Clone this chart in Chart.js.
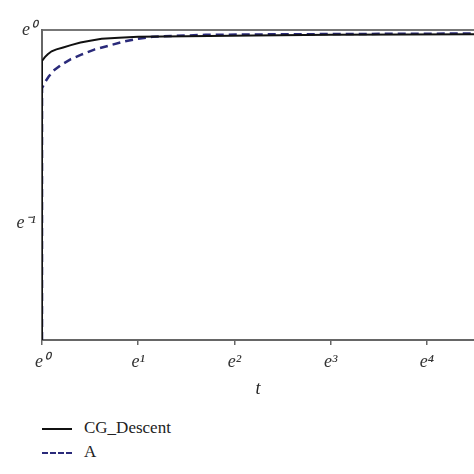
<!DOCTYPE html>
<html><head><meta charset="utf-8">
<script src="https://cdn.jsdelivr.net/npm/chart.js@4/dist/chart.umd.min.js"></script>
<style>
body{margin:0;background:#fff;font-family:"Liberation Serif",serif;}
#wrap{position:absolute;left:0;top:0;width:474px;height:400px;}
.leg{position:absolute;left:42px;font-size:17px;color:#222;}
.leg span{display:inline-block;width:30px;margin-right:12px;vertical-align:middle;}
</style></head><body>
<div id="wrap"><canvas id="c"></canvas></div>
<div class="leg" style="top:418px"><span style="border-top:2px solid #111"></span>CG_Descent</div>
<div class="leg" style="top:442px"><span style="border-top:2px dashed #2a2a7a"></span>A</div>
<script>
// log-scale values: x = ln(t), y = ln(rho)
var xTicks = [0, 1, 2, 3, 4];
var yTicks = [0, -1];
var cgX = [0, 0, 0.03, 0.06, 0.1, 0.15, 0.22, 0.3, 0.4, 0.5, 0.62, 0.8, 1.0, 1.5, 2.2, 3.0, 4.5];
var cgY = [-1.6, -0.16, -0.14, -0.125, -0.11, -0.1, -0.09, -0.078, -0.065, -0.055, -0.045, -0.04, -0.035, -0.032, -0.028, -0.025, -0.022];
var aX = [0, 0, 0.03, 0.07, 0.12, 0.2, 0.3, 0.42, 0.55, 0.7, 0.85, 1.0, 1.15, 1.4, 1.7, 2.5, 4.5];
var aY = [-1.6, -0.3, -0.27, -0.24, -0.21, -0.18, -0.15, -0.125, -0.1, -0.08, -0.06, -0.045, -0.035, -0.03, -0.025, -0.022, -0.018];
var sup = {"0":"\u2070","1":"\u00b9","2":"\u00b2","3":"\u00b3","4":"\u2074","-":"\u207b"};
function eLab(v){return "e" + String(v).split("").map(function(c){return sup[c];}).join("");}
function pts(xs, ys){return xs.map(function(x,i){return {x:x,y:ys[i]};});}
new Chart(document.getElementById("c"), {
  type: "line",
  data: { datasets: [
    {label:"CG_Descent", data:pts(cgX,cgY), borderColor:"#111", borderWidth:2, pointRadius:0},
    {label:"A", data:pts(aX,aY), borderColor:"#2a2a7a", borderWidth:2.5, borderDash:[8,5], pointRadius:0}
  ]},
  options: {
    responsive:true, maintainAspectRatio:false, animation:false,
    layout:{padding:{top:30,right:0,left:0,bottom:0}},
    plugins:{legend:{display:false}, tooltip:{enabled:false}},
    scales:{
      x:{type:"linear", min:0, max:4.49, afterBuildTicks:function(a){a.ticks=xTicks.map(function(v){return {value:v};});},
         grid:{drawOnChartArea:false, drawTicks:true, tickLength:5, color:"#666", lineWidth:1.5}, border:{color:"#666", width:2},
         ticks:{color:"#333", padding:6, font:{family:"Liberation Serif", size:18, style:"italic"}, callback:function(v){return eLab(v);}},
         title:{display:true, text:"t", color:"#222", font:{family:"Liberation Serif", size:18, style:"italic"}, padding:0},
         afterFit:function(s){s.height=60;}},
      y:{type:"linear", min:-1.6, max:0, afterBuildTicks:function(a){a.ticks=yTicks.map(function(v){return {value:v};});},
         grid:{color:function(c){return c.tick && c.tick.value===0 ? "#777" : "transparent";}, lineWidth:2, drawTicks:false},
         border:{color:"#666", width:2},
         ticks:{color:"#333", padding:6, font:{family:"Liberation Serif", size:18, style:"italic"}, callback:function(v){return eLab(v);}},
         afterFit:function(s){s.width=42;}}
    }
  }
});
</script></body></html>
